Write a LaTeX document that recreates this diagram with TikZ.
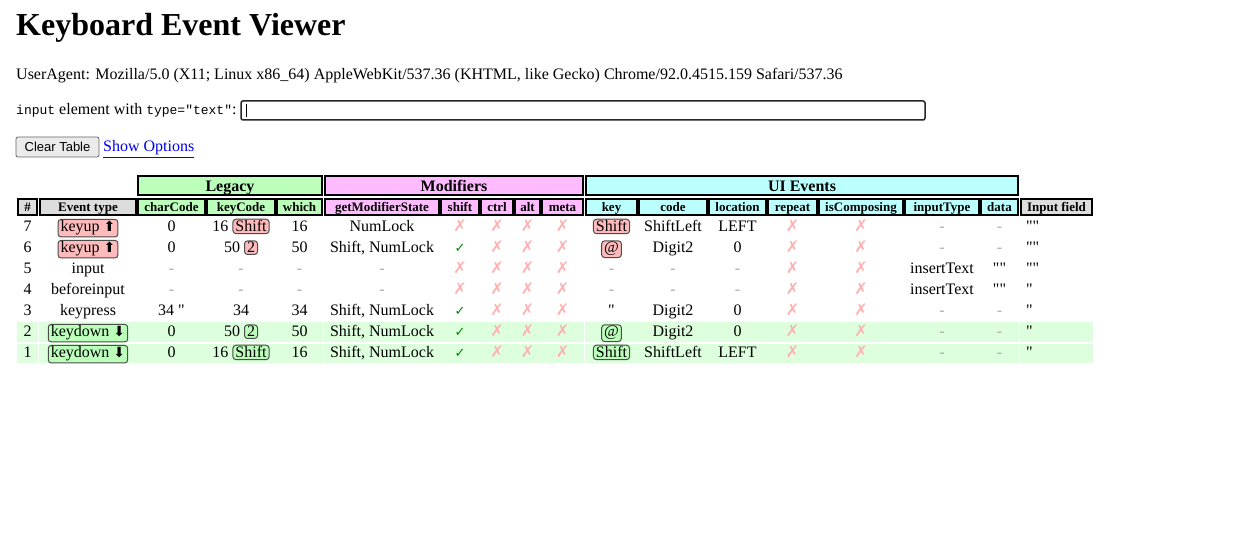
\documentclass[tikz,border=0pt]{standalone}
\usepackage{fontspec}
\setmainfont{Liberation Serif}
\setmonofont{Liberation Mono}
\newfontfamily\plainf{Liberation Serif}[Ligatures=ResetAll]
\newfontfamily\symf{DejaVu Sans}
\newfontfamily\uisans{Liberation Sans}
\definecolor{legc}{HTML}{BBFFBB}
\definecolor{modc}{HTML}{FFBBFF}
\definecolor{uic}{HTML}{BBFFFF}
\definecolor{grayc}{HTML}{DDDDDD}
\definecolor{rowg}{HTML}{DDFFDD}
\definecolor{badr}{HTML}{FFBBBB}
\definecolor{xc}{HTML}{FFB0B0}
\definecolor{dashc}{HTML}{AAAAAA}
\definecolor{okc}{HTML}{008800}
\definecolor{linkc}{HTML}{0000EE}
\newcommand{\Q}{{\plainf\symbol{34}}}
\newcommand{\xx}{\textcolor{xc}{\symf ✗}}
\newcommand{\ok}{\textcolor{okc}{\symf\fontsize{13}{15}\selectfont ✓}}
\newcommand{\da}{\textcolor{dashc}{-}}
\newcommand{\bR}[1]{\tikz[baseline=(b.base)]\node[badge,fill=badr](b){#1};}
\newcommand{\bG}[1]{\tikz[baseline=(b.base)]\node[badge,fill=legc](b){#1};}
\newcommand{\up}{{\symf\fontsize{14}{16}\selectfont ⬆}}
\newcommand{\dn}{{\symf\fontsize{14}{16}\selectfont ⬇}}
\tikzset{
  badge/.style={draw=black!70,rounded corners=3pt,inner xsep=2.5pt,inner ysep=1.5pt,line width=1pt},
  hdr/.style={draw=black,line width=1.2pt,font=\bfseries\fontsize{13}{15}\selectfont,inner sep=0pt,anchor=center,text height=12pt,text depth=2pt},
  grp/.style={draw=black,line width=1.2pt,font=\bfseries\fontsize{16}{18}\selectfont,inner sep=0pt,text height=15pt,text depth=3pt},
  cellt/.style={font=\fontsize{16}{19}\selectfont,inner sep=0pt,anchor=base}
}
\begin{document}
\begin{tikzpicture}[x=1pt,y=-1pt]
\useasboundingbox[fill=white] (0,0) rectangle (1248,545);
\node[anchor=base west,inner sep=0pt,font=\bfseries\fontsize{32}{36}\selectfont] (title) at (16,36) {Keyboard Event Viewer};
\node[anchor=base west,inner sep=0pt,font=\fontsize{16}{19}\selectfont] (ua) at (16,80) {UserAgent: Mozilla/5.0 (X11; Linux x86\_64) AppleWebKit/537.36 (KHTML, like Gecko) Chrome/92.0.4515.159 Safari/537.36};
\node[anchor=base west,inner sep=0pt,font=\fontsize{16}{19}\selectfont] (lbl) at (16,115) {{\ttfamily\fontsize{13}{15}\selectfont input} element with {\ttfamily\fontsize{13}{15}\selectfont type="text"}:};
\draw[rounded corners=2pt,line width=1.5pt,draw=black!85] (241,101) rectangle (925,120);
\draw[line width=0.8pt] (246,104) -- (246,117);
\node[draw=black!60,fill=black!8,rounded corners=2pt,line width=0.8pt,minimum width=83pt,minimum height=20pt,inner sep=0pt,font=\uisans\fontsize{13}{15}\selectfont] (btn) at (57.5,147) {Clear Table};
\node[anchor=base west,inner sep=0pt,font=\fontsize{16}{19}\selectfont,text=linkc] (link) at (103,152) {\underline{Show Options}};
% group headers
\node[grp,fill=legc,minimum width=184pt,minimum height=19pt] (g1) at (230,185.5) {Legacy};
\node[grp,fill=modc,minimum width=258pt,minimum height=19pt] (g2) at (454,185.5) {Modifiers};
\node[grp,fill=uic,minimum width=432pt,minimum height=19pt] (g3) at (802,185.5) {UI Events};
% column headers
\foreach \a/\b/\c/\t [count=\i] in {18/37/grayc/\#,40/136/grayc/Event type,138/205/legc/charCode,207/275/legc/keyCode,277/322/legc/which,325/439/modc/getModifierState,441/479/modc/shift,481/513/modc/ctrl,515/540/modc/alt,542/583/modc/meta,586/637/uic/key,639/707/uic/code,709/766/uic/location,768/817/uic/repeat,819/903/uic/isComposing,905/979/uic/inputType,981/1018/uic/data,1021/1092/grayc/Input field}{
  \node[hdr,fill=\c,minimum width={\b-\a},minimum height=16pt] (h\i) at ({(\a+\b)/2},207) {\t};
  \fill[rowg] (\a-1,322) rectangle (\b+1,342);
  \fill[rowg] (\a-1,344) rectangle (\b+1,363);
}
\newcommand{\row}[2]{%
  \foreach \t [count=\i] in {#2}{
    \pgfmathsetmacro{\cx}{{27.5,88,171.5,241,299.5,382,460,497,527.5,562.5,611.5,673,737.5,792.5,861,942,999.5,1030}[\i-1]}
    \ifnum\i=18
      \node[cellt,anchor=base west] at (1026,#1) {\t};
    \else
      \node[cellt] at (\cx,#1) {\t};
    \fi
  }}
\row{232}{7,{\bR{keyup \up}},0,{16 \bR{Shift}},16,NumLock,\xx,\xx,\xx,\xx,{\bR{Shift}},ShiftLeft,LEFT,\xx,\xx,\da,\da,\Q\Q}
\row{253}{6,{\bR{keyup \up}},0,{50 \bR{2}},50,{Shift, NumLock},\ok,\xx,\xx,\xx,{\bR{@}},Digit2,0,\xx,\xx,\da,\da,\Q\Q}
\row{274}{5,input,\da,\da,\da,\da,\xx,\xx,\xx,\xx,\da,\da,\da,\xx,\xx,insertText,\Q\Q,\Q\Q}
\row{295}{4,beforeinput,\da,\da,\da,\da,\xx,\xx,\xx,\xx,\da,\da,\da,\xx,\xx,insertText,\Q\Q,\Q}
\row{316}{3,keypress,34 \Q,34,34,{Shift, NumLock},\ok,\xx,\xx,\xx,\Q,Digit2,0,\xx,\xx,\da,\da,\Q}
\row{337}{2,{\bG{keydown \dn}},0,{50 \bG{2}},50,{Shift, NumLock},\ok,\xx,\xx,\xx,{\bG{@}},Digit2,0,\xx,\xx,\da,\da,\Q}
\row{358}{1,{\bG{keydown \dn}},0,{16 \bG{Shift}},16,{Shift, NumLock},\ok,\xx,\xx,\xx,{\bG{Shift}},ShiftLeft,LEFT,\xx,\xx,\da,\da,\Q}
\end{tikzpicture}
\end{document}
